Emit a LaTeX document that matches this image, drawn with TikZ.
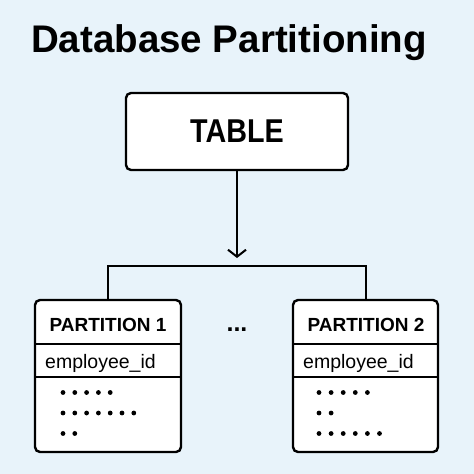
\documentclass[tikz,border=0pt]{standalone}
\usepackage{fontspec}
\setmainfont{Liberation Sans}
\usetikzlibrary{positioning,arrows.meta}
\definecolor{bgblue}{HTML}{E8F3FA}
\tikzset{
  box/.style={draw, rounded corners=5pt, line width=2.4pt, fill=white},
  link/.style={line width=2pt},
  head/.style={font=\bfseries\fontsize{19}{20}\selectfont, anchor=base, inner sep=0pt},
  key/.style={font=\fontsize{19.5}{20}\selectfont, anchor=base west, inner sep=0pt},
}
\begin{document}
\begin{tikzpicture}[x=1pt,y=-1pt]
    \fill[bgblue] (0,0) rectangle (474,474);
    \node[anchor=base, inner sep=0pt, font=\bfseries\fontsize{38.5}{40}\selectfont] (title) at (229,52) {Database Partitioning};
    \node[box, minimum width=222pt, minimum height=77pt, font=\bfseries\fontsize{33}{34}\selectfont] (table) at (237,131.5) {\scalebox{0.87}[1]{TABLE}};
    \coordinate (split) at (237,258);
    \coordinate (bus) at (237,266);
    \node[box, minimum width=146pt, minimum height=152pt] (p_1) at (108,376) {};
    \node[box, minimum width=145pt, minimum height=152pt] (p_2) at (365.5,376) {};
    % links
    \draw[link, -{Straight Barb[length=7pt,width=18pt,line width=2pt]}] (table) -- (split);
    \draw[link] (p_1.north) |- (bus) -| (p_2.north);
    % partition rows
    \foreach \l/\r in {35/181, 293/438} {
        \draw[link] (\l,344) -- (\r,344);
        \draw[link] (\l,377) -- (\r,377);
    }
    \node[head] (h_1) at (108,331) {PARTITION 1};
    \node[head] (h_2) at (366,331) {PARTITION 2};
    \node[key] (k_1) at (45,368) {employee\_id};
    \node[key] (k_2) at (303,368) {employee\_id};
    \node[head, font=\bfseries\fontsize{25}{26}\selectfont] (gap) at (237,331) {...};
    % dots
    \foreach \n [count=\r] in {5,7,2}
        \foreach \i in {1,...,\n}
            \fill (63+11.8*\i-11.8, 372+20.5*\r) circle (2.4pt);
    \foreach \n [count=\r] in {5,2,6}
        \foreach \i in {1,...,\n}
            \fill (319+12.1*\i-12.1, 372+20.5*\r) circle (2.4pt);
\end{tikzpicture}
\end{document}
